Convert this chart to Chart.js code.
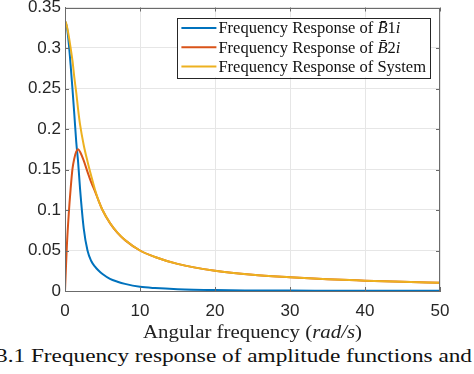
<!DOCTYPE html>
<html>
<head>
<meta charset="utf-8">
<script src="https://cdn.jsdelivr.net/npm/chart.js@4.4.1/dist/chart.umd.min.js"></script>
<style>
  body { margin:0; background:#fff; overflow:hidden; }
  #wrap { position:relative; width:474px; height:374px; overflow:hidden; }
  #chartBox { position:absolute; left:0; top:0; width:474px; height:345px; }
  #caption { position:absolute; left:-4px; top:345px; white-space:nowrap;
             font-family:"Liberation Serif", serif; font-size:19px; color:#111;
             transform-origin:0 0; }
</style>
</head>
<body>
<div id="wrap">
  <div id="chartBox"><canvas id="freqChart"></canvas></div>
  <div id="caption">3.1 Frequency response of amplitude functions and</div>
</div>
<script>
// angular frequency samples (rad/s)
const freq = [0, 0.1, 0.25, 0.5, 0.75, 1, 1.25, 1.5, 1.75, 2, 2.5, 3, 3.5, 4, 4.5, 5, 6, 7, 8, 10, 12, 15, 20, 25, 30, 35, 40, 45, 50];

// values
const b1Resp  = [0.333, 0.331, 0.326, 0.306, 0.279, 0.249, 0.217, 0.184, 0.159, 0.127, 0.077, 0.050, 0.037, 0.030, 0.025, 0.021, 0.015, 0.0115, 0.0088, 0.0052, 0.0036, 0.0022, 0.0011, 0.0007, 0.0005, 0.0004, 0.0003, 0.0002, 0.0002];
const b2Resp  = [0, 0.023, 0.056, 0.095, 0.126, 0.151, 0.164, 0.172, 0.175, 0.172, 0.161, 0.147, 0.134, 0.123, 0.111, 0.100, 0.0838, 0.0718, 0.0628, 0.050, 0.042, 0.0335, 0.025, 0.020, 0.0170, 0.0145, 0.0128, 0.0113, 0.0101];
const sysResp = [0.333, 0.332, 0.327, 0.315, 0.300, 0.284, 0.263, 0.245, 0.224, 0.206, 0.180, 0.160, 0.142, 0.125, 0.111, 0.100, 0.084, 0.072, 0.063, 0.050, 0.042, 0.0335, 0.025, 0.020, 0.0170, 0.0145, 0.0128, 0.0113, 0.0101];

const xTicks = [0, 10, 20, 30, 40, 50];
const yTicks = [0, 0.05, 0.1, 0.15, 0.2, 0.25, 0.3, 0.35];

const colors = ["#0072BD", "#D95319", "#EDB120"];
const axisColor = "#6b6b6b";

/* ===== legend with math-ish labels ===== */
const legendRows = [
  [["Frequency Response of ", ""], ["B\u0304", "italic "], ["1", ""], ["i", "italic "]],
  [["Frequency Response of ", ""], ["B\u0304", "italic "], ["2", ""], ["i", "italic "]],
  [["Frequency Response of System", ""]]
];

const boxLegend = {
  id: "boxLegend",
  afterDraw(chart){
    const ctx = chart.ctx;
    const a = chart.chartArea;
    const font = "16.5px 'Liberation Serif', serif";
    ctx.save();
    ctx.textBaseline = "middle";
    let maxW = 0;
    legendRows.forEach(row=>{
      let w = 0;
      row.forEach(([t,st])=>{ ctx.font = st + font; w += ctx.measureText(t).width; });
      maxW = Math.max(maxW, w);
    });
    const right = a.right - 10;
    const top = a.top + 10;
    const lineLen = 35, gap = 2, padL = 4, padR = 4, rowH = 19.2;
    const left = right - (padL + lineLen + gap + maxW + padR);
    const h = rowH*3 + 2;
    ctx.fillStyle = "#fff";
    ctx.fillRect(left, top, right-left, h);
    ctx.strokeStyle = "#262626";
    ctx.lineWidth = 1;
    ctx.strokeRect(Math.round(left)+0.5, Math.round(top)+0.5, Math.round(right-left), Math.round(h));
    legendRows.forEach((row,i)=>{
      const y = top + 1 + rowH*(i+0.5);
      ctx.strokeStyle = colors[i];
      ctx.lineWidth = 2;
      ctx.beginPath();
      ctx.moveTo(left+padL, y);
      ctx.lineTo(left+padL+lineLen, y);
      ctx.stroke();
      let x = left + padL + lineLen + gap;
      ctx.fillStyle = "#111";
      row.forEach(([t,st])=>{
        ctx.font = st + font;
        ctx.fillText(t, x, y+1);
        x += ctx.measureText(t).width;
      });
    });
    ctx.restore();
  }
};

/* ===== box, inner ticks and axis title ===== */
const boxAxes = {
  id: "boxAxes",
  afterDatasetsDraw(chart){
    const ctx = chart.ctx;
    const a = chart.chartArea;
    const xs = chart.scales.x, ys = chart.scales.y;
    ctx.save();
    ctx.strokeStyle = axisColor;
    ctx.lineWidth = 1;
    ctx.strokeRect(Math.round(a.left)+0.5, Math.round(a.top)+0.5, Math.round(a.right-a.left)-1, Math.round(a.bottom-a.top)-1);
    ctx.beginPath();
    xTicks.forEach(v=>{
      const px = Math.round(xs.getPixelForValue(v))+0.5;
      ctx.moveTo(px, a.bottom); ctx.lineTo(px, a.bottom-4);
      ctx.moveTo(px, a.top); ctx.lineTo(px, a.top+4);
    });
    yTicks.forEach(v=>{
      const py = Math.round(ys.getPixelForValue(v))+0.5;
      ctx.moveTo(a.left, py); ctx.lineTo(a.left+4, py);
      ctx.moveTo(a.right, py); ctx.lineTo(a.right-4, py);
    });
    ctx.stroke();
    ctx.restore();
  },
  afterDraw(chart){
    const ctx = chart.ctx;
    const a = chart.chartArea;
    const parts = [["Angular frequency (", ""], ["rad/s", "italic "], [")", ""]];
    const font = "18.5px 'Liberation Serif', serif";
    ctx.save();
    ctx.textBaseline = "middle";
    ctx.fillStyle = "#222";
    let w = 0;
    parts.forEach(([t,st])=>{ ctx.font = st + font; w += ctx.measureText(t).width; });
    // the figure's font runs wider, stretch to its width
    const sx = 219 / w;
    ctx.translate((a.left + a.right)/2, 333);
    ctx.scale(sx, 1);
    let x = -w/2;
    parts.forEach(([t,st])=>{
      ctx.font = st + font;
      ctx.fillText(t, x, 0);
      x += ctx.measureText(t).width;
    });
    ctx.restore();
  }
};

function series(ys){
  return freq.map((f,i)=>({x:f, y:ys[i]}));
}

new Chart(document.getElementById("freqChart"), {
  type: "line",
  data: {
    datasets: [
      { label: "Frequency Response of B1i", data: series(b1Resp), borderColor: colors[0], order: 3 },
      { label: "Frequency Response of B2i", data: series(b2Resp), borderColor: colors[1], order: 2 },
      { label: "Frequency Response of System", data: series(sysResp), borderColor: colors[2], order: 1 }
    ]
  },
  options: {
    responsive: true,
    maintainAspectRatio: false,
    animation: false,
    layout: { padding: { left: 0, right: 34, top: 0, bottom: 0 } },
    elements: {
      point: { radius: 0 },
      line: { borderWidth: 2, cubicInterpolationMode: "monotone", fill: false }
    },
    plugins: { legend: { display: false }, tooltip: { enabled: false } },
    scales: {
      x: {
        type: "linear", min: 0, max: 50,
        afterFit: s => { s.height = 54; },
        afterBuildTicks: s => { s.ticks = xTicks.map(v=>({value:v})); },
        grid: { color: "#e6e6e6", drawTicks: false },
        border: { color: axisColor },
        ticks: { color: "#262626", padding: 10, font: { family: "'Liberation Sans', Arial", size: 17 } }
      },
      y: {
        min: 0, max: 0.35,
        afterFit: s => { s.width = 65; s.paddingTop = 7.5; s.paddingBottom = 0; },
        afterBuildTicks: s => { s.ticks = yTicks.map(v=>({value:v})); },
        grid: { color: "#e6e6e6", drawTicks: false },
        border: { color: axisColor },
        ticks: { color: "#262626", padding: 4, font: { family: "'Liberation Sans', Arial", size: 17 },
                 callback: v => String(+v.toFixed(2)) }
      }
    }
  },
  plugins: [boxAxes, boxLegend]
});

// stretch caption so it spans the same width as in the figure
const cap = document.getElementById("caption");
const capW = cap.getBoundingClientRect().width;
cap.style.transform = "scaleX(" + (476/capW).toFixed(3) + ")";
</script>
</body>
</html>
